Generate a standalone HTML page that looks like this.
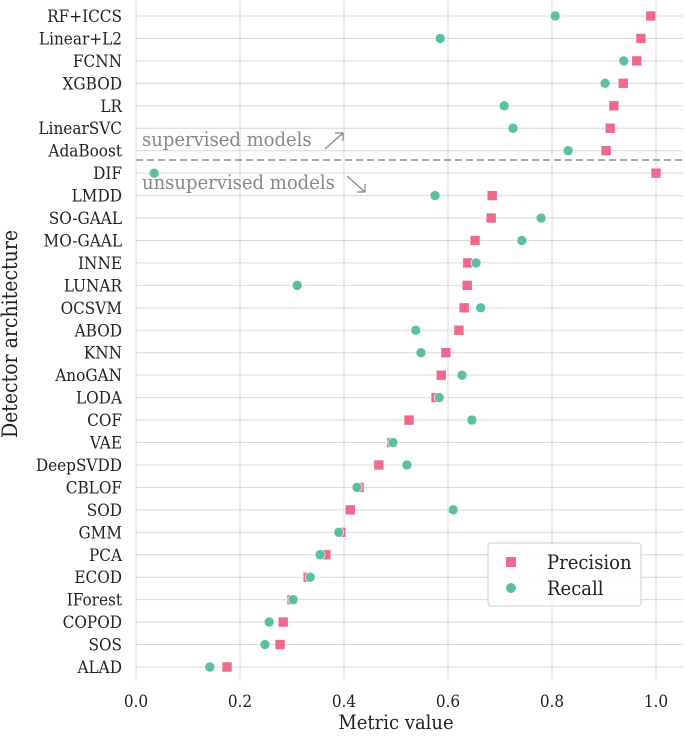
<!DOCTYPE html>
<html><head><meta charset="utf-8"><style>
body{margin:0;background:#fff}
svg text{font-family:"DejaVu Serif Condensed","DejaVu Serif","Liberation Serif",serif;font-stretch:condensed;fill:#222}
</style></head><body>
<svg id="chart" width="685" height="734" xmlns="http://www.w3.org/2000/svg">
<g id="grid"></g>
<g id="marks"></g>
<g id="labels"></g>
</svg>
<script>
const categories=["RF+ICCS","Linear+L2","FCNN","XGBOD","LR","LinearSVC","AdaBoost","DIF","LMDD","SO-GAAL","MO-GAAL","INNE","LUNAR","OCSVM","ABOD","KNN","AnoGAN","LODA","COF","VAE","DeepSVDD","CBLOF","SOD","GMM","PCA","ECOD","IForest","COPOD","SOS","ALAD"];
const precision=[0.99,0.971,0.963,0.937,0.919,0.912,0.904,1.0,0.685,0.683,0.652,0.638,0.637,0.631,0.621,0.596,0.587,0.577,0.525,0.492,0.467,0.429,0.412,0.394,0.365,0.331,0.3,0.283,0.277,0.175];
const recall=[0.806,0.585,0.938,0.902,0.708,0.725,0.831,0.035,0.575,0.779,0.742,0.654,0.31,0.663,0.538,0.548,0.627,0.583,0.646,0.494,0.521,0.425,0.61,0.39,0.354,0.335,0.302,0.256,0.248,0.142];
const xTicks=[0,0.2,0.4,0.6,0.8,1.0];
const xTickLabels=["0.0","0.2","0.4","0.6","0.8","1.0"];
const NS="http://www.w3.org/2000/svg";
const x=v=>136+v*520;
const y=i=>16+i*(651/29);
function mk(tag,attrs,parent,text){const e=document.createElementNS(NS,tag);for(const k in attrs)e.setAttribute(k,attrs[k]);if(text!==undefined)e.textContent=text;parent.appendChild(e);return e;}
const grid=document.getElementById('grid'),marks=document.getElementById('marks'),labels=document.getElementById('labels');
xTicks.forEach((t,i)=>{
 const l=mk('line',{x1:x(t),x2:x(t),y1:0,y2:681,stroke:'#d9d9d9','stroke-width':1},grid);
 
 
 const tx=mk('text',{x:x(t),y:707,'text-anchor':'middle','font-size':17},labels,xTickLabels[i]);
 
 
});
categories.forEach((c,i)=>{
 const l=mk('line',{x1:136,x2:683,y1:y(i),y2:y(i),stroke:'#d9d9d9','stroke-width':1},grid);
 
 
 const tx=mk('text',{x:122,y:y(i)+6,'text-anchor':'end','font-size':17},labels,c);
 
 
 const s=mk('rect',{x:x(precision[i])-5,y:y(i)-5,width:10,height:10,fill:'#ee6a8a',stroke:'#fff','stroke-width':0.6},marks);
 
 
 const r=mk('circle',{cx:x(recall[i]),cy:y(i),r:5,fill:'#5bbfa6',stroke:'#fff','stroke-width':0.6},marks);
 
 
});
const dl=mk('line',{x1:136,x2:683,y1:160,y2:160,stroke:'#aaa','stroke-width':2,'stroke-dasharray':'7,4'},labels);


const a1=mk('text',{x:142,y:146,'font-size':20,style:'fill:#888'},labels,'supervised models');


const ar1=mk('path',{d:'M325,149 L343,133 M335,133 L343,133 L343,141',stroke:'#888','stroke-width':1.2,fill:'none'},labels);


const a2=mk('text',{x:142,y:189,'font-size':20,style:'fill:#888'},labels,'unsupervised models');


const ar2=mk('path',{d:'M347,176 L365,192 M365,184 L365,192 L357,192',stroke:'#888','stroke-width':1.2,fill:'none'},labels);


const xl=mk('text',{x:396,y:729,'text-anchor':'middle','font-size':20},labels,'Metric value');


const yl=mk('text',{x:0,y:0,'text-anchor':'middle','font-size':21,transform:'translate(17,334) rotate(-90)'},labels,'Detector architecture');


const lg=mk('g',{},labels);


mk('rect',{x:488,y:543,width:153,height:63,rx:3,fill:'#fff','fill-opacity':0.85,stroke:'#ccc'},lg);
mk('rect',{x:506,y:557,width:10,height:10,fill:'#ee6a8a'},lg);
mk('circle',{cx:511,cy:588,r:5,fill:'#5bbfa6'},lg);
const le1=mk('text',{x:547,y:569,'font-size':20},lg,'Precision');


const le2=mk('text',{x:547,y:595,'font-size':20},lg,'Recall');


</script>
</body></html>
